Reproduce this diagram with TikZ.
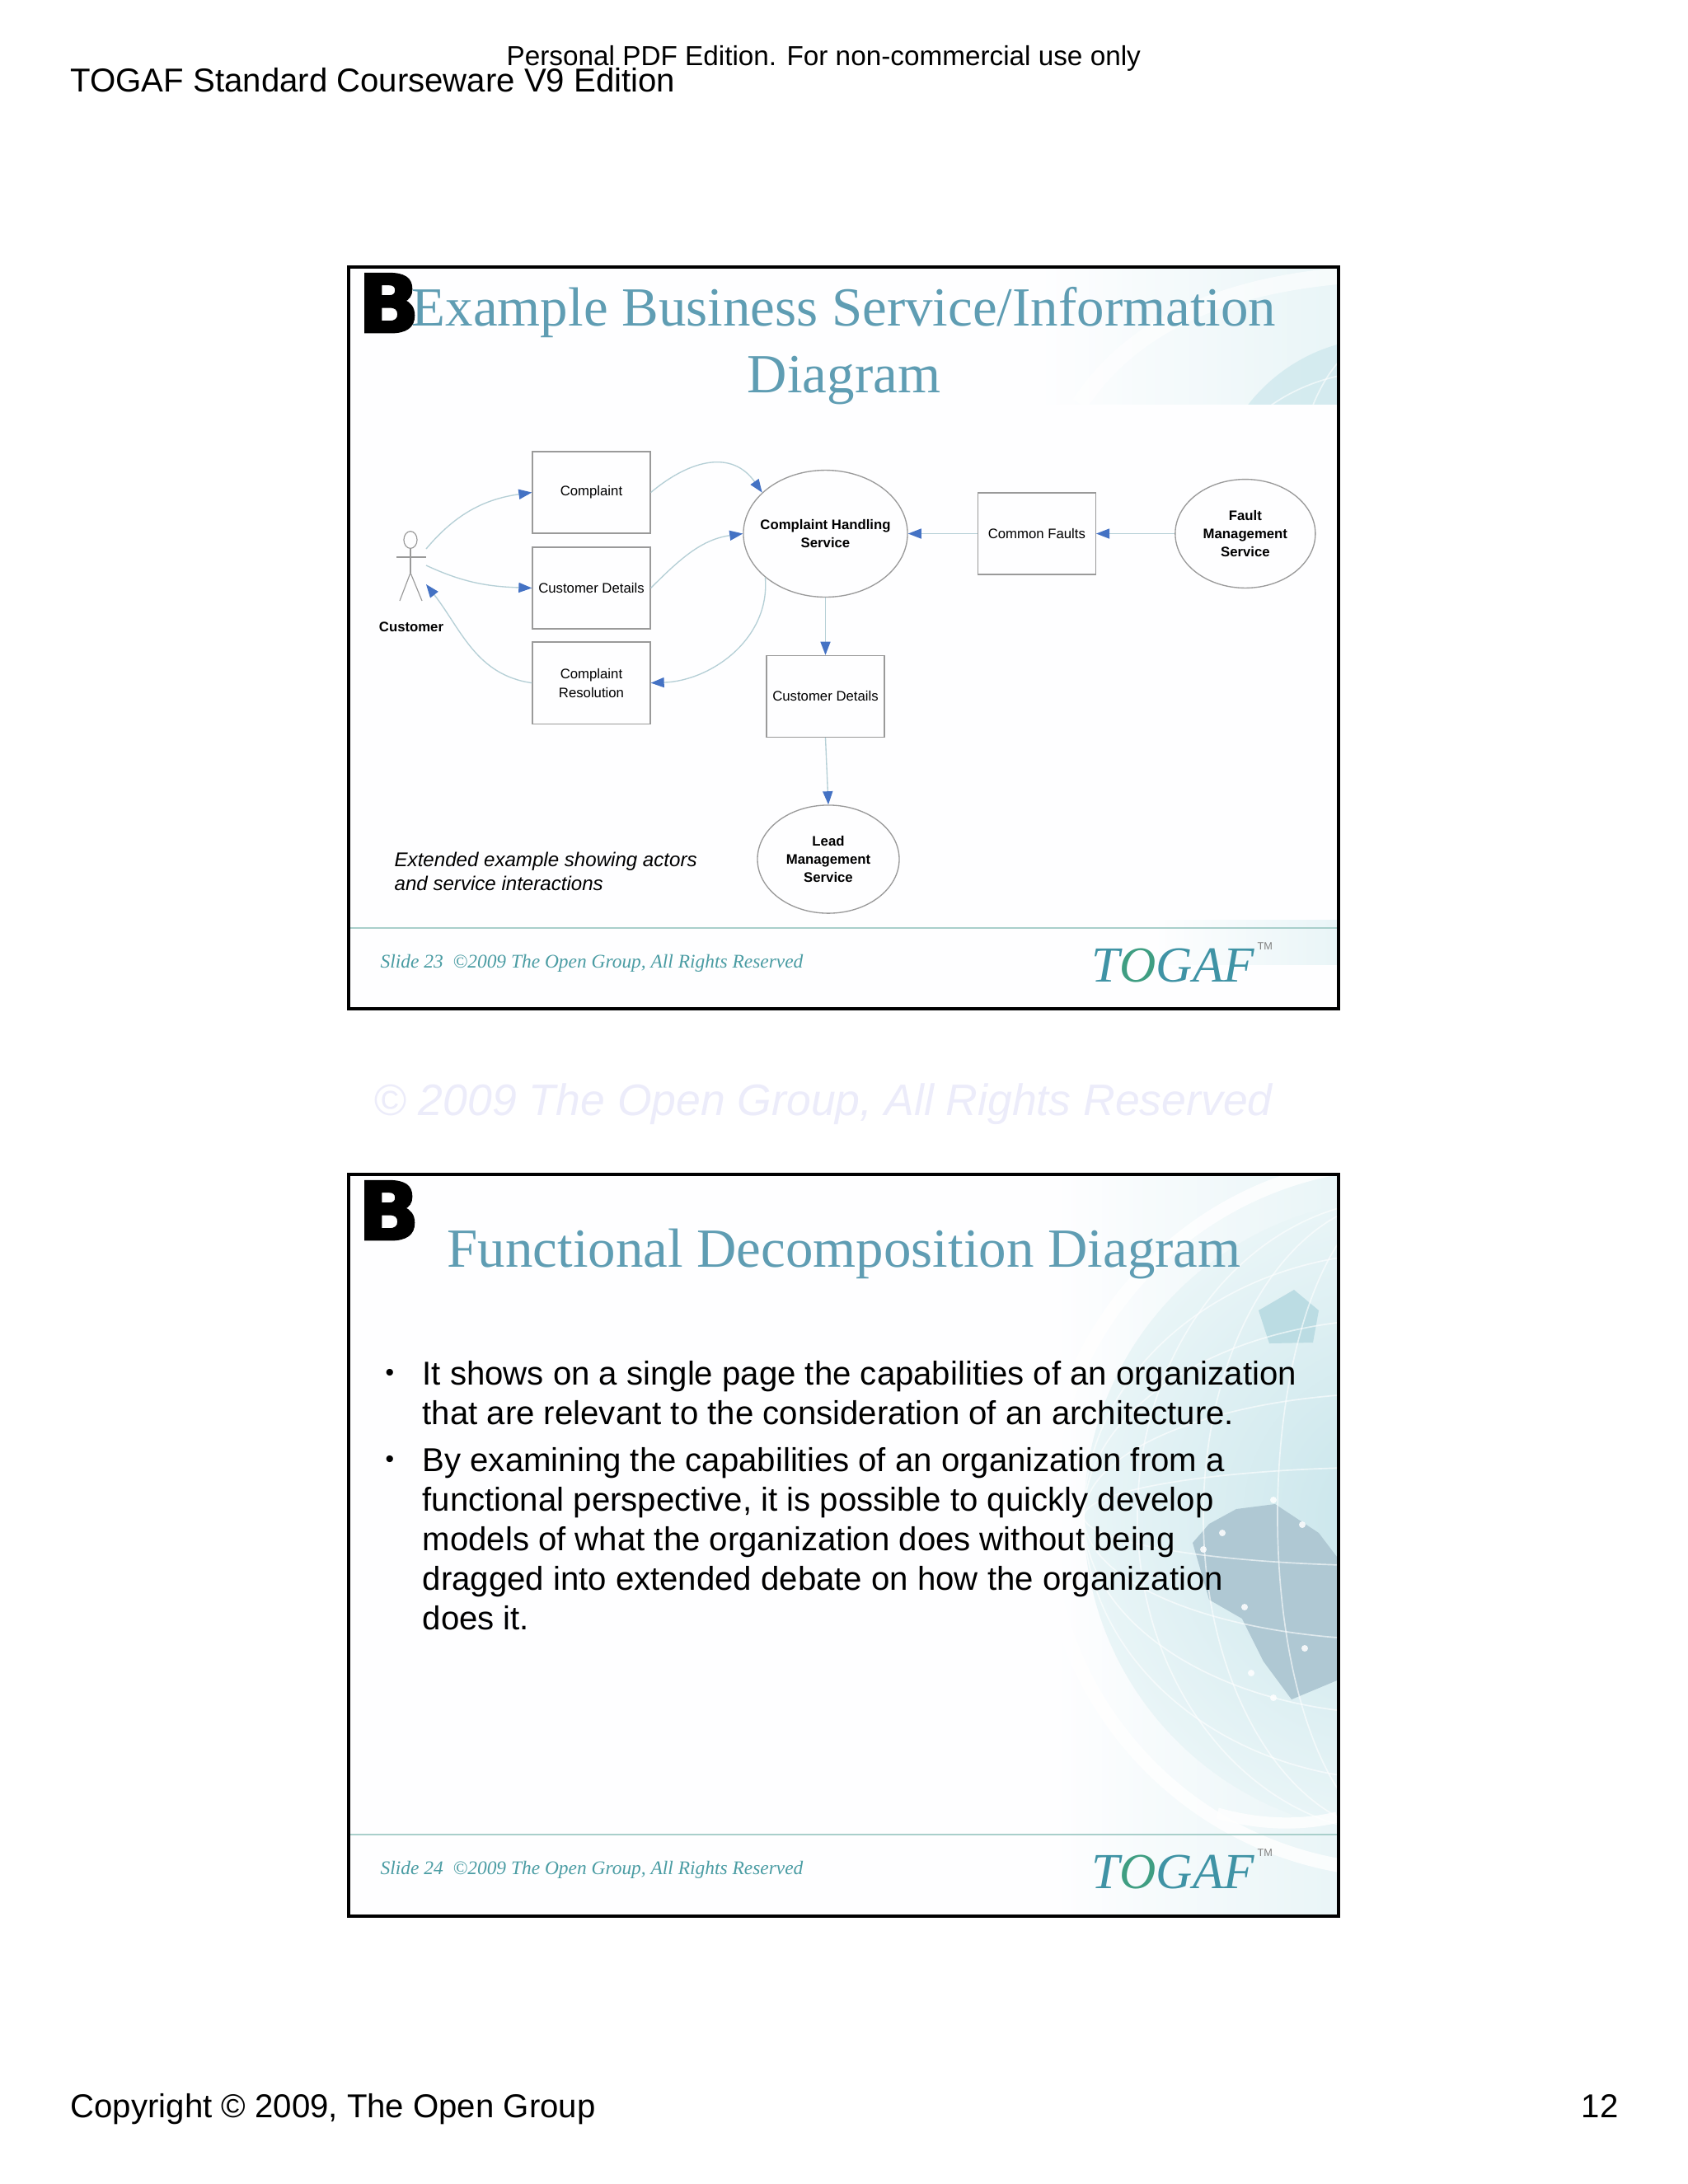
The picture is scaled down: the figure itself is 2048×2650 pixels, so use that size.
\documentclass[tikz,border=0pt]{standalone}
\usepackage{fontspec}
\setmainfont{Liberation Serif}
\setsansfont{Liberation Sans}
\newfontfamily\heavyfont[FakeBold=3]{DejaVu Sans Bold}
\usetikzlibrary{arrows.meta, shapes.geometric, positioning}

\definecolor{titleblue}{HTML}{5F9DB3}
\definecolor{footteal}{HTML}{4A9CA3}
\definecolor{footline}{HTML}{A9CFCB}
\definecolor{tipblue}{HTML}{4472C4}
\definecolor{flowgray}{HTML}{B5CFD6}
\definecolor{boxgray}{HTML}{9A9A9A}
\definecolor{markcol}{HTML}{ECECFA}
\definecolor{globepale}{HTML}{E9F5F7}
\definecolor{globecol}{HTML}{C6E4EA}
\definecolor{landcol}{HTML}{AFC8D3}
\definecolor{landpale}{HTML}{BBDCE3}
\definecolor{logoteal}{HTML}{3F93A5}
\definecolor{logogreen}{HTML}{3F9E82}
\definecolor{slidebg}{HTML}{FEFEFF}

\tikzset{
    store/.style={rectangle, draw=boxgray, line width=.4pt, inner sep=0pt, minimum width=42.7pt, minimum height=29.6pt, align=center, font=\sffamily\fontsize{5}{6.8}\selectfont},
    service/.style={ellipse, draw=boxgray, line width=.4pt, inner ysep=-6pt, inner xsep=-8pt, align=center, font=\sffamily\bfseries\fontsize{5}{6.5}\selectfont},
    flow/.style={flowgray, line width=.4pt, -{Triangle[length=4.8pt, width=3.6pt, color=tipblue]}},
    limb/.style={draw=boxgray, line width=.35pt},
    pagetxt/.style={inner sep=0pt, anchor=base west, font=\sffamily\fontsize{12}{14}\selectfont},
    slidetitle/.style={inner sep=0pt, anchor=north, align=center, text=titleblue, font=\rmfamily\fontsize{20}{24}\selectfont},
    slidefoot/.style={inner sep=0pt, anchor=base west, text=footteal, font=\rmfamily\itshape\fontsize{7}{8}\selectfont},
    logo/.style={inner sep=0pt, anchor=base west, text=logoteal, font=\rmfamily\itshape\fontsize{18.3}{20}\selectfont},
    tmark/.style={inner sep=0pt, anchor=base west, text=gray, font=\sffamily\fontsize{3.8}{4}\selectfont},
    bigb/.style={inner sep=0pt, anchor=base west, font=\heavyfont\fontsize{29}{30}\selectfont},
    bullettxt/.style={inner sep=0pt, anchor=north west, align=left, font=\sffamily\fontsize{12}{14.3}\selectfont},
    bulletdot/.style={inner sep=0pt, font=\sffamily\fontsize{9}{10}\selectfont},
    frameline/.style={draw=black, line width=1pt}
}

\begin{document}
\begin{tikzpicture}[x=0.2988pt, y=-0.2988pt, shorten >=0pt, node distance=5cm, on grid]

    \useasboundingbox (0,0) rectangle (2048,2650);
    \fill[white] (0,0) rectangle (2048,2650);

    % slide backgrounds
    \fill[slidebg] (423,324) rectangle (1624,1224);
    \fill[slidebg] (423,1425) rectangle (1624,2325);

    \begin{scope}
        \clip (1100,326) rectangle (1622,490);
        \shade[left color=slidebg, right color=globepale] (1260,326) rectangle (1622,490);
        \draw[white, line width=6pt, opacity=.6] (1310,490) .. controls (1370,400) and (1470,350) .. (1622,335);
        \fill[globecol, opacity=.6] (1680,620) circle (210);
        \draw[white, line width=.5pt, opacity=.6] (1680,620) ellipse [x radius=110, y radius=210];
        \draw[white, line width=.5pt, opacity=.6] (1680,620) ellipse [x radius=210, y radius=170];
    \end{scope}
    \shade[left color=slidebg, right color=globepale] (1400,1116) rectangle (1622,1170);

    \begin{scope}
        \clip (423,1427) rectangle (1622,2323);
        \shade[left color=slidebg, right color=globepale] (1280,1427) rectangle (1622,2323);
        \draw[white, line width=5pt, opacity=.8] (1700,1840) circle (430);
        \shade[inner color=globecol, outer color=globepale] (1700,1840) circle (385);
        \fill[landcol] (1447,1872) -- (1467,1849) -- (1500,1831) -- (1547,1825) -- (1600,1860) -- (1622,1889) -- (1622,2039) -- (1567,2062) -- (1533,2016) -- (1507,1964) -- (1467,1941) -- cycle;
        \fill[landpale] (1527,1590) -- (1570,1565) -- (1600,1590) -- (1593,1629) -- (1540,1630) -- cycle;
        \foreach \r in {60, 150, 240, 320} {
            \draw[white, line width=.5pt, opacity=.6] (1700,1840) ellipse [x radius=\r, y radius=385];
            \draw[white, line width=.5pt, opacity=.6] (1700,1840) ellipse [x radius=385, y radius=\r];
        }
        \foreach \a/\b in {1483/1860, 1545/1820, 1580/1850, 1510/1950, 1583/2000, 1518/2030, 1460/1880, 1545/2060} {
            \fill[white, opacity=.85] (\a,\b) circle (4);
        }
        \draw[white, line width=4pt, opacity=.8] (1477,2200) .. controls (1530,2215) and (1580,2215) .. (1622,2205);
    \end{scope}

    % page header and footer
    \node[pagetxt, font=\sffamily\fontsize{9.95}{12}\selectfont] (edition) at (614,79) {Personal PDF Edition. For non-commercial use only};
    \node[pagetxt] (course) at (85,111) {TOGAF Standard Courseware V9 Edition};
    \node[pagetxt] (copyright) at (85,2569) {Copyright © 2009, The Open Group};
    \node[pagetxt, anchor=base east] (pagenum) at (1964,2569) {12};

    \node[pagetxt, text=markcol, font=\sffamily\itshape\fontsize{16}{18}\selectfont] (watermark) at (453,1353) {© 2009 The Open Group, All Rights Reserved};

    % first slide
    \node[slidetitle] (titlea) at (1024,348) {Example Business Service/Information\\Diagram};
    \node[bigb] (ba) at (434,403) {B};

    \node[store] (complaint) at (717.5,597.5) {Complaint};
    \node[store, below=34.66pt of complaint] (details) {Customer Details};
    \node[store, below=34.4pt of details] (resolution) {Complaint\\Resolution};

    \node[service, minimum width=59.5pt, minimum height=46pt] (chs) at (1001.5,647.5) {Complaint Handling\\Service};
    \node[store, right=76.6pt of chs] (faults) {Common Faults};
    \node[service, right=75.6pt of faults, minimum width=50.8pt, minimum height=39.4pt] (fms) {Fault\\Management\\Service};
    \node[store, below=59pt of chs] (detailsb) {Customer Details};
    \node[service, minimum width=51.4pt, minimum height=39.2pt] (lms) at (1005,1042.5) {Lead\\Management\\Service};

    % actor
    \node[ellipse, limb, inner sep=0pt, minimum width=4.8pt, minimum height=6.2pt] (head) at (498,655) {};
    \coordinate (hip) at (498,695);
    \coordinate (handl) at (481,676);
    \coordinate (handr) at (517,676);
    \coordinate (footl) at (485,729);
    \coordinate (footr) at (512,729);
    \draw[limb] (head.south) -- (hip);
    \draw[limb] (handl) -- (handr);
    \draw[limb] (footl) -- (hip) -- (footr);
    \node[inner sep=0pt, font=\sffamily\bfseries\fontsize{5}{6}\selectfont] (customer) at (499,761) {Customer};

    \coordinate (custa) at (517,666);
    \coordinate (custb) at (517,686);
    \coordinate (custc) at (517,709);

    \path[flow]
    (custa) edge[out=50, in=188] (complaint.west)
    (custb) edge[out=-25, in=178] (details.west)
    (resolution.west) edge[out=172, in=-52] (custc)
    (complaint.east) edge[out=40, in=125, looseness=1.2] (chs.147)
    (details.east) edge[out=45, in=188] (chs.west)
    (chs.216) edge[out=-85, in=2] (resolution.east)
    (chs.south) edge[] (detailsb.north)
    (detailsb.south) edge[] (lms.north)
    (faults.west) edge[] (chs.east)
    (fms.west) edge[] (faults.east);

    \node[inner sep=0pt, anchor=north west, align=left, font=\sffamily\itshape\fontsize{7.2}{8.7}\selectfont] (note) at (478,1033) {Extended example showing actors\\and service interactions};

    \draw[footline, line width=.5pt] (423,1126) -- (1624,1126);
    \node[slidefoot] (foota) at (461,1174) {Slide 23\ \ ©2009 The Open Group, All Rights Reserved};
    \node[logo] (logoa) at (1324,1191) {T{\color{logogreen}O}GAF};
    \node[tmark] (tma) at (1525,1152) {TM};
    \draw[frameline] (423,324) rectangle (1624,1224);

    % second slide
    \node[slidetitle] (titleb) at (1024,1490) {Functional Decomposition Diagram};
    \node[bigb] (bb) at (434,1504) {B};

    \node[bulletdot] (dota) at (473,1668) {•};
    \node[bullettxt] (bula) at (512,1651) {It shows on a single page the capabilities of an organization\\that are relevant to the consideration of an architecture.};
    \node[bulletdot] (dotb) at (473,1773) {•};
    \node[bullettxt] (bulb) at (512,1756) {By examining the capabilities of an organization from a\\functional perspective, it is possible to quickly develop\\models of what the organization does without being\\dragged into extended debate on how the organization\\does it.};

    \draw[footline, line width=.5pt] (423,2226) -- (1624,2226);
    \node[slidefoot] (footb) at (461,2274) {Slide 24\ \ ©2009 The Open Group, All Rights Reserved};
    \node[logo] (logob) at (1324,2291) {T{\color{logogreen}O}GAF};
    \node[tmark] (tmb) at (1525,2252) {TM};
    \draw[frameline] (423,1425) rectangle (1624,2325);

\end{tikzpicture}
\end{document}
